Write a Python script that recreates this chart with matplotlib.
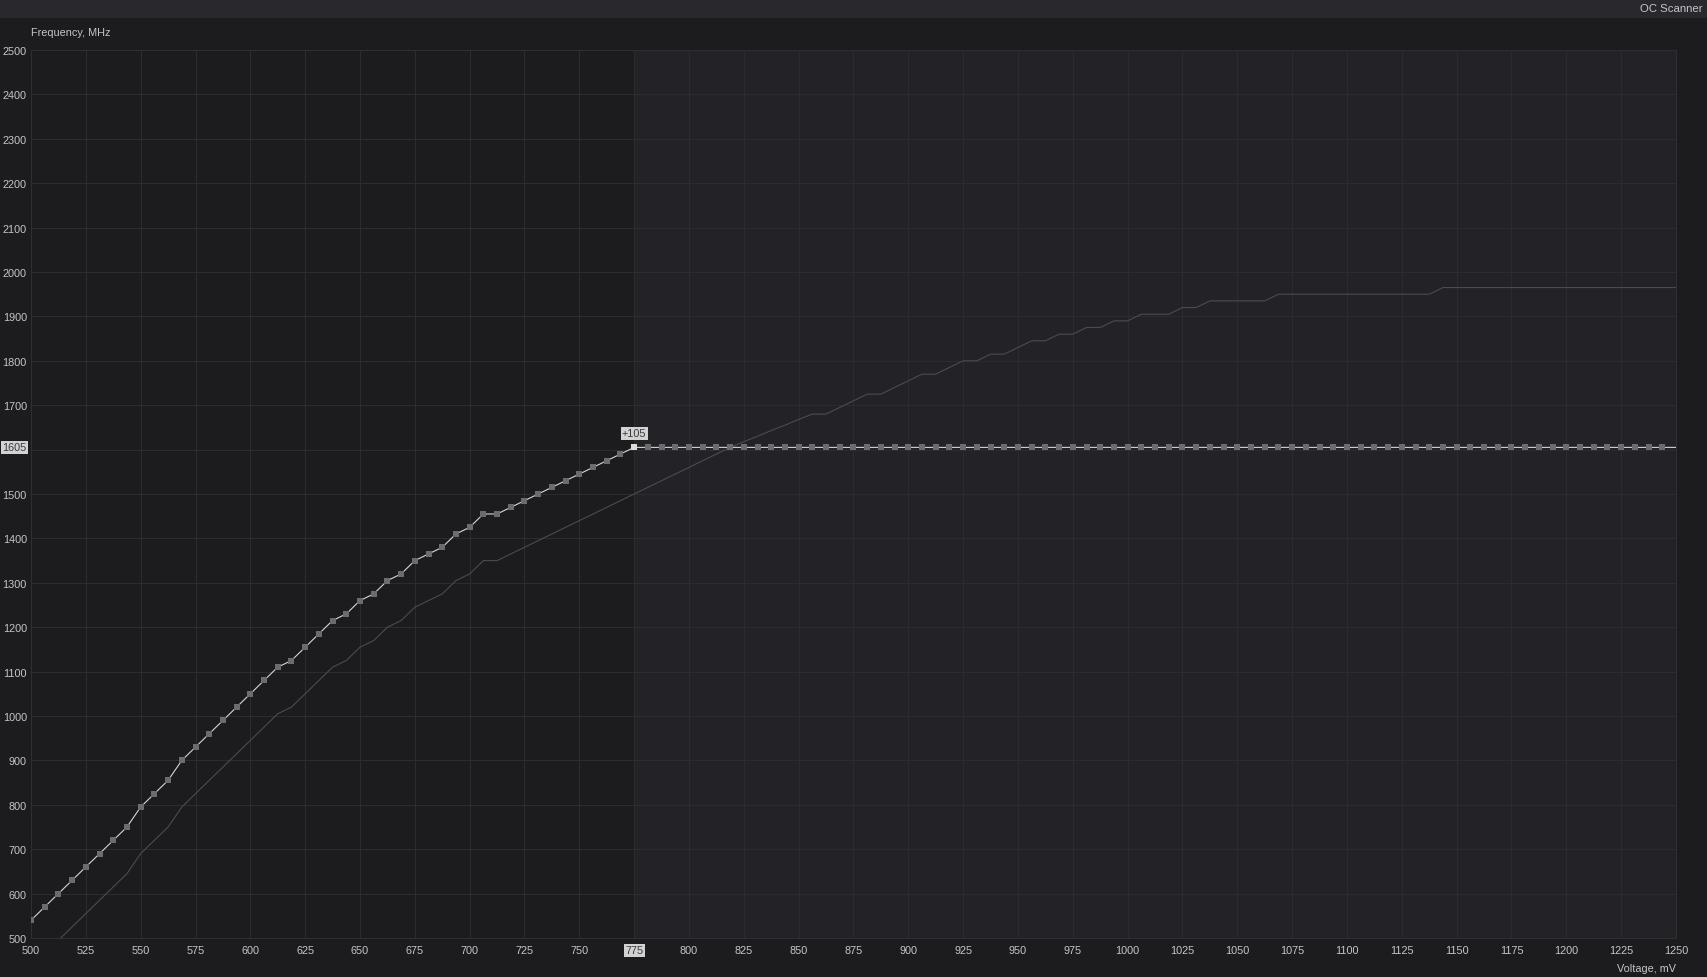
import matplotlib
matplotlib.use("Agg")
import matplotlib.pyplot as plt
from matplotlib.patches import Rectangle

# ---------------- data ----------------
voltage_mv = [
    500, 506.25, 512.5, 518.75,
    525, 531.25, 537.5, 543.75,
    550, 556.25, 562.5, 568.75,
    575, 581.25, 587.5, 593.75,
    600, 606.25, 612.5, 618.75,
    625, 631.25, 637.5, 643.75,
    650, 656.25, 662.5, 668.75,
    675, 681.25, 687.5, 693.75,
    700, 706.25, 712.5, 718.75,
    725, 731.25, 737.5, 743.75,
    750, 756.25, 762.5, 768.75,
    775, 781.25, 787.5, 793.75,
    800, 806.25, 812.5, 818.75,
    825, 831.25, 837.5, 843.75,
    850, 856.25, 862.5, 868.75,
    875, 881.25, 887.5, 893.75,
    900, 906.25, 912.5, 918.75,
    925, 931.25, 937.5, 943.75,
    950, 956.25, 962.5, 968.75,
    975, 981.25, 987.5, 993.75,
    1000, 1006.25, 1012.5, 1018.75,
    1025, 1031.25, 1037.5, 1043.75,
    1050, 1056.25, 1062.5, 1068.75,
    1075, 1081.25, 1087.5, 1093.75,
    1100, 1106.25, 1112.5, 1118.75,
    1125, 1131.25, 1137.5, 1143.75,
    1150, 1156.25, 1162.5, 1168.75,
    1175, 1181.25, 1187.5, 1193.75,
    1200, 1206.25, 1212.5, 1218.75,
    1225, 1231.25, 1237.5, 1243.75,
    1250,
]

# OC Scanner curve (white, with point markers)
curve_mhz = [
    540, 570, 600, 630,          # 500
    660, 690, 720, 750,          # 525
    795, 825, 855, 900,          # 550
    930, 960, 990, 1020,         # 575
    1050, 1080, 1110, 1125,      # 600
    1155, 1185, 1215, 1230,      # 625
    1260, 1275, 1305, 1320,      # 650
    1350, 1365, 1380, 1410,      # 675
    1425, 1455, 1455, 1470,      # 700
    1485, 1500, 1515, 1530,      # 725
    1545, 1560, 1575, 1590,      # 750
    1605, 1605, 1605, 1605,      # 775
    1605, 1605, 1605, 1605,      # 800
    1605, 1605, 1605, 1605,      # 825
    1605, 1605, 1605, 1605,      # 850
    1605, 1605, 1605, 1605,      # 875
    1605, 1605, 1605, 1605,      # 900
    1605, 1605, 1605, 1605,      # 925
    1605, 1605, 1605, 1605,      # 950
    1605, 1605, 1605, 1605,      # 975
    1605, 1605, 1605, 1605,      # 1000
    1605, 1605, 1605, 1605,      # 1025
    1605, 1605, 1605, 1605,      # 1050
    1605, 1605, 1605, 1605,      # 1075
    1605, 1605, 1605, 1605,      # 1100
    1605, 1605, 1605, 1605,      # 1125
    1605, 1605, 1605, 1605,      # 1150
    1605, 1605, 1605, 1605,      # 1175
    1605, 1605, 1605, 1605,      # 1200
    1605, 1605, 1605, 1605,      # 1225
    1605,                        # 1250
]

# default (stock) curve, thin grey
default_mhz = [
    435, 465, 495, 525,          # 500
    555, 585, 615, 645,          # 525
    690, 720, 750, 795,          # 550
    825, 855, 885, 915,          # 575
    945, 975, 1005, 1020,        # 600
    1050, 1080, 1110, 1125,      # 625
    1155, 1170, 1200, 1215,      # 650
    1245, 1260, 1275, 1305,      # 675
    1320, 1350, 1350, 1365,      # 700
    1380, 1395, 1410, 1425,      # 725
    1440, 1455, 1470, 1485,      # 750
    1500, 1515, 1530, 1545,      # 775
    1560, 1575, 1590, 1605,      # 800
    1618, 1630, 1643, 1655,      # 825
    1668, 1680, 1680, 1695,      # 850
    1710, 1725, 1725, 1740,      # 875
    1755, 1770, 1770, 1785,      # 900
    1800, 1800, 1815, 1815,      # 925
    1830, 1845, 1845, 1860,      # 950
    1860, 1875, 1875, 1890,      # 975
    1890, 1905, 1905, 1905,      # 1000
    1920, 1920, 1935, 1935,      # 1025
    1935, 1935, 1935, 1950,      # 1050
    1950, 1950, 1950, 1950,      # 1075
    1950, 1950, 1950, 1950,      # 1100
    1950, 1950, 1950, 1965,      # 1125
    1965, 1965, 1965, 1965,      # 1150
    1965, 1965, 1965, 1965,      # 1175
    1965, 1965, 1965, 1965,      # 1200
    1965, 1965, 1965, 1965,      # 1225
    1965,                        # 1250
]

x_ticks = [500, 525, 550, 575, 600, 625, 650, 675, 700, 725, 750, 775, 800,
           825, 850, 875, 900, 925, 950, 975, 1000, 1025, 1050, 1075, 1100,
           1125, 1150, 1175, 1200, 1225, 1250]
y_ticks = [500, 600, 700, 800, 900, 1000, 1100, 1200, 1300, 1400, 1500,
           1600, 1700, 1800, 1900, 2000, 2100, 2200, 2300, 2400, 2500]

selected_mv = 775
selected_mhz = 1605
selected_offset = "+105"

# ---------------- style ----------------
W, H = 1708, 978
BG = "#1c1c1f"
BG_RIGHT = "#222227"
TOPBAR = "#29292d"
GRID = "#2c2c30"
TXT = "#c4c6cc"
FONT = ["Liberation Sans", "DejaVu Sans"]
FS = 7.8

plt.rcParams["font.family"] = FONT

fig = plt.figure(figsize=(W / 100, H / 100), dpi=100, facecolor=BG)

# top bar
fig.patches.append(Rectangle((0, 1 - 19 / H), 1, 19 / H, transform=fig.transFigure,
                             facecolor=TOPBAR, edgecolor="none", zorder=0))
fig.text(1703 / W, 1 - 8.5 / H, "OC Scanner", ha="right", va="center",
         color=TXT, fontsize=FS + 0.4)

left_px, right_px, top_px, bot_px = 31, 1676, 51, 939
ax = fig.add_axes([left_px / W, (H - bot_px) / H,
                   (right_px - left_px) / W, (bot_px - top_px) / H])
ax.set_facecolor(BG)
ax.set_xlim(x_ticks[0], x_ticks[-1])
ax.set_ylim(y_ticks[0], y_ticks[-1])

# lighter region to the right of the selected point
ax.axvspan(selected_mv, x_ticks[-1], color=BG_RIGHT, zorder=0, lw=0)

ax.set_xticks(x_ticks)
ax.set_yticks(y_ticks)
ax.set_xticklabels(["" if v == selected_mv else str(v) for v in x_ticks])
ax.set_yticklabels(["" if v == 1600 else str(v) for v in y_ticks])
ax.tick_params(axis="both", length=0, colors=TXT, labelsize=FS)
ax.tick_params(axis="x", pad=5.3)
ax.tick_params(axis="y", pad=3.0)
ax.grid(True, color=GRID, lw=0.75, zorder=1)
for s in ax.spines.values():
    s.set_color("#2f2f33")
    s.set_linewidth(0.75)

# curves
ax.plot(voltage_mv, default_mhz, color="#4b4b50", lw=0.8, zorder=3)
ax.plot(voltage_mv, curve_mhz, color="#d6d6d6", lw=0.8, zorder=4,
        marker="s", markersize=4.3, markerfacecolor="#6c6c6c",
        markeredgewidth=0, markevery=slice(0, len(voltage_mv) - 1))
ax.plot([selected_mv], [selected_mhz], marker="s", markersize=4.3,
        color="#dcdcdc", markeredgewidth=0, zorder=5, ls="none")

# highlighted labels
box = dict(boxstyle="square,pad=0.12", facecolor="#d2d2d2", edgecolor="none")
ax.annotate(selected_offset, xy=(selected_mv, selected_mhz), xycoords="data",
            xytext=(0, 10), textcoords="offset points", ha="center", va="center",
            fontsize=FS, color="#3a3a3a", bbox=box, zorder=6)
ax.annotate(str(selected_mhz), xy=(0, selected_mhz), xycoords=("axes fraction", "data"),
            xytext=(-3.4, 0), textcoords="offset points", ha="right", va="center",
            fontsize=FS, color="#3a3a3a", bbox=box, annotation_clip=False)
ax.annotate(str(selected_mv), xy=(selected_mv, 0), xycoords=("data", "axes fraction"),
            xytext=(0, -8.8), textcoords="offset points", ha="center", va="center",
            fontsize=FS, color="#3a3a3a", bbox=box, annotation_clip=False)

# axis titles
fig.text(31 / W, 1 - 33.5 / H, "Frequency, MHz", ha="left", va="center",
         color=TXT, fontsize=FS)
fig.text(1676 / W, 1 - 969 / H, "Voltage, mV", ha="right", va="center",
         color=TXT, fontsize=FS)

fig.savefig("out.png", dpi=100, facecolor=BG)
